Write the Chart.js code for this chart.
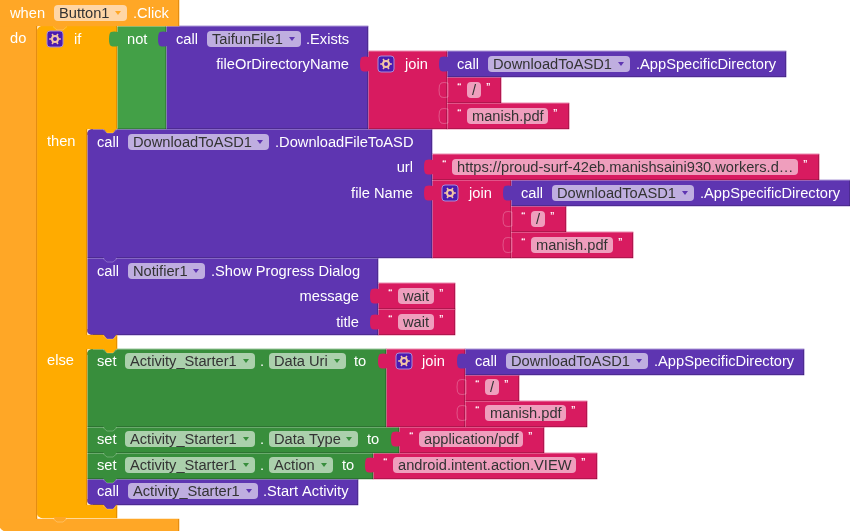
<!DOCTYPE html>
<html>
<head>
<meta charset="utf-8">
<style>
  html, body { margin: 0; background: #fff; }
  canvas { display: block; }
</style>
<script src="https://cdn.jsdelivr.net/npm/chart.js@4/dist/chart.umd.min.js"></script>
</head>
<body>
<canvas id="myChart" width="850" height="531"></canvas>
<script>
// blocks: x range on the x axis, y range on the y axis
const blockKind = ['when','when','when','if','if','if','if','if','not','call','join','call','text','text','call','text','join','call','text','text','call','text','text','set','join','call','text','text','set','text','set','text','call']
const blockFrom = [0,0,0,37,37,37,37,37,117,166,368,447,447,447,87,432,432,511,511,511,87,378,378,87,386,465,465,465,87,399,87,373,87]
const blockTo = [179,37,179,117,87,117,87,117,166,368,447,786,501,569,432,819,511,850,566,633,378,455,455,386,465,804,519,587,399,544,373,597,358]
const blockTop = [0,26,519,26,129,335,349,505,26,26,51,51,77,103,129,154,180,180,206,232,258,283,309,349,349,349,375,401,427,427,453,453,479]
const blockBottom = [26,519,531,129,335,349,505,518,129,129,129,77,103,129,258,180,258,206,232,258,335,309,335,427,427,375,401,427,453,453,479,479,505]

// plain labels on the blocks
const labelText = ['when','.Click','do','if','not','call','.Exists','fileOrDirectoryName','join','call','.AppSpecificDirectory','then','call','.DownloadFileToASD','url','file Name','join','call','.AppSpecificDirectory','call','.Show Progress Dialog','message','title','else','set','.','to','join','call','.AppSpecificDirectory','set','.','to','set','.','to','call','.Start Activity']
const labelX = [10,133,10,74,127,176,306,349,405,457,636,47,97,275,413,413,469,521,700,97,211,359,359,47,97,260,354,422,475,654,97,260,367,97,260,342,97,263]
const labelY = [13,13,38,39,39,39,39,64,64,64,64,141,142,142,167,193,193,193,193,271,271,296,322,360,361,361,361,361,361,361,439,439,439,465,465,465,491,491]
const rightAligned = ['fileOrDirectoryName','url','file Name','message','title']

// dropdown and string fields
const fieldText = ['Button1','TaifunFile1','DownloadToASD1','/','manish.pdf','DownloadToASD1','https://proud-surf-42eb.manishsaini930.workers.d…','DownloadToASD1','/','manish.pdf','Notifier1','wait','wait','Activity_Starter1','Data Uri','DownloadToASD1','/','manish.pdf','Activity_Starter1','Data Type','application/pdf','Activity_Starter1','Action','android.intent.action.VIEW','Activity_Starter1']
const fieldKind = ['when','call','call','text','text','call','text','call','text','text','call','text','text','set','set','call','text','text','set','set','text','set','set','text','call']
const fieldFrom = [54,207,488,467,467,128,452,552,531,531,128,398,398,125,269,506,485,485,125,269,419,125,269,393,128]
const fieldTo = [127,301,630,481,548,269,798,694,545,613,205,434,434,255,346,648,499,566,255,358,523,255,333,576,258]
const fieldY = [13,39,64,90,116,142,167,193,219,245,271,296,322,361,361,361,387,413,439,439,439,465,465,465,491]

// mutator gears and puzzle tabs
const gearX = [55,386,450,404]
const gearY = [39,64,193,361]
const tabKind = ['not','call','join','call','text','join','call','text','text','join','call','text','text']
const tabX = [117,166,368,447,432,432,511,378,378,386,465,399,373]
const tabY = [39,39,64,64,167,193,193,296,322,361,361,439,465]
const hollowTabX = [447,447,511,511,465,465]
const hollowTabY = [90,116,219,245,387,413]
const bumpKind = ['when','when','if','if','call','call','set','set','set','call']
const bumpX = [53,53,103,103,103,103,103,103,103,103]
const bumpY = [26,518,129,349,258,335,427,453,479,505]

const colors = { when: '#ffa726', if: '#ffab00', not: '#43a047', call: '#5e35b1', join: '#d81b60', text: '#d81b60', set: '#388e3c' }
const fieldColors = { when: '#ffd6a6', call: '#bfaee0', text: '#ef9ebd', set: '#abd0ac' }
const arrowColors = { when: '#ffa726', call: '#5e35b1', set: '#388e3c' }
const roundTop = [3, 14, 23]
const roundBottom = [2, 7, 20, 32]
const font = '14.67px "Liberation Sans"'

const datasets = blockKind.map((kind, i) => ({
    label: kind,
    data: [{ x: (blockFrom[i] + blockTo[i]) / 2, y: [blockTop[i], blockBottom[i]] }],
    backgroundColor: colors[kind],
    barThickness: blockTo[i] - blockFrom[i],
    borderSkipped: false,
    grouped: false,
    borderRadius: {
        topLeft: roundTop.includes(i) ? 6 : 0,
        bottomLeft: roundBottom.includes(i) ? 6 : 0,
        topRight: 0,
        bottomRight: 0
    }
}))

function tabPath(c, x, y) {
    c.beginPath()
    c.moveTo(x + 1, y - 7)
    c.quadraticCurveTo(x - 3, y - 8, x - 6, y - 7)
    c.quadraticCurveTo(x - 8, y - 6, x - 8, y)
    c.quadraticCurveTo(x - 8, y + 6, x - 6, y + 7)
    c.quadraticCurveTo(x - 3, y + 8, x + 1, y + 7)
    c.closePath()
}

function roundBox(c, x0, x1, y, h, r) {
    c.beginPath()
    c.roundRect(x0, y - h / 2, x1 - x0, h, r)
    c.fill()
}

function drawGear(c, x, y) {
    c.fillStyle = '#4a1bb0'
    c.strokeStyle = '#a88bd8'
    c.lineWidth = 1
    c.beginPath()
    c.roundRect(x - 8, y - 8, 16, 16, 3)
    c.fill()
    c.stroke()
    c.strokeStyle = '#f3c6a5'
    c.lineWidth = 2
    c.beginPath()
    c.arc(x, y, 3, 0, Math.PI * 2)
    c.stroke()
    c.lineWidth = 1.6
    for (let a = 0; a < 6; a++) {
        const t = a * Math.PI / 3
        c.beginPath()
        c.moveTo(x + Math.cos(t) * 3.5, y + Math.sin(t) * 3.5)
        c.lineTo(x + Math.cos(t) * 5.8, y + Math.sin(t) * 5.8)
        c.stroke()
    }
}

const blockDetails = {
    id: 'blockDetails',
    afterDatasetsDraw(chart) {
        const c = chart.ctx
        const px = (v) => chart.scales.x.getPixelForValue(v)
        const py = (v) => chart.scales.y.getPixelForValue(v)
        c.save()

        // bevel along the block edges
        blockKind.forEach((kind, i) => {
            const x0 = px(blockFrom[i]), x1 = px(blockTo[i])
            const y0 = py(blockTop[i]), y1 = py(blockBottom[i])
            const orange = kind === 'when' || kind === 'if'
            c.lineWidth = 1
            c.strokeStyle = orange ? 'rgba(205,120,0,0.55)' : 'rgba(0,0,0,0.18)'
            c.beginPath()
            c.moveTo(x1 - 0.5, y0)
            c.lineTo(x1 - 0.5, y1)
            if (!orange) {
                c.moveTo(x0 + (roundBottom.includes(i) ? 6 : 0), y1 - 0.5)
                c.lineTo(x1, y1 - 0.5)
            }
            c.stroke()
            if (!orange) {
                c.strokeStyle = 'rgba(255,255,255,0.25)'
                c.beginPath()
                c.moveTo(x0 + (roundTop.includes(i) ? 6 : 0), y0 + 0.5)
                c.lineTo(x1, y0 + 0.5)
                c.moveTo(x0 + 0.5, y0 + (roundTop.includes(i) ? 6 : 0))
                c.lineTo(x0 + 0.5, y1 - (roundBottom.includes(i) ? 6 : 0))
                c.stroke()
            }
        })

        // statement connectors
        bumpKind.forEach((kind, i) => {
            const x = px(bumpX[i]), y = py(bumpY[i])
            c.fillStyle = colors[kind]
            c.beginPath()
            c.moveTo(x, y - 1)
            c.lineTo(x + 4, y + 4)
            c.lineTo(x + 10, y + 4)
            c.lineTo(x + 14, y - 1)
            c.closePath()
            c.fill()
            c.strokeStyle = 'rgba(255,255,255,0.25)'
            c.beginPath()
            c.moveTo(x, y + 0.5)
            c.lineTo(x + 4, y + 4)
            c.lineTo(x + 10, y + 4)
            c.lineTo(x + 14, y + 0.5)
            c.stroke()
        })

        // value tabs
        tabKind.forEach((kind, i) => {
            tabPath(c, px(tabX[i]), py(tabY[i]))
            c.fillStyle = colors[kind]
            c.fill()
        })
        hollowTabX.forEach((x, i) => {
            tabPath(c, px(x), py(hollowTabY[i]))
            c.strokeStyle = 'rgba(255,255,255,0.25)'
            c.lineWidth = 1
            c.stroke()
        })

        c.font = font
        c.textBaseline = 'alphabetic'

        // fields
        fieldText.forEach((t, i) => {
            const kind = fieldKind[i]
            const x0 = px(fieldFrom[i]), x1 = px(fieldTo[i]), y = py(fieldY[i])
            c.fillStyle = fieldColors[kind]
            roundBox(c, x0, x1, y, 16, 4)
            c.fillStyle = '#333'
            c.textAlign = t === '/' ? 'center' : 'left'
            c.fillText(t, t === '/' ? (x0 + x1) / 2 : x0 + 5, y + 5)
            if (kind !== 'text') {
                c.fillStyle = arrowColors[kind]
                c.beginPath()
                c.moveTo(x1 - 12, y - 2)
                c.lineTo(x1 - 6, y - 2)
                c.lineTo(x1 - 9, y + 2)
                c.closePath()
                c.fill()
            } else {
                c.fillStyle = '#fff'
                c.textAlign = 'left'
                c.font = 'bold 9px "Liberation Sans"'
                c.fillText('“', x0 - 10, y - 1)
                c.fillText('”', x1 + 5, y - 1)
                c.font = font
            }
        })

        // labels
        c.fillStyle = '#fff'
        labelText.forEach((t, i) => {
            c.textAlign = rightAligned.includes(t) ? 'right' : 'left'
            c.fillText(t, px(labelX[i]), py(labelY[i]) + 5)
        })

        gearX.forEach((x, i) => drawGear(c, px(x), py(gearY[i])))
        c.restore()
    }
}

new Chart(document.getElementById('myChart'), {
    type: 'bar',
    data: {
        datasets: datasets
    },
    options: {
        responsive: false,
        animation: false,
        layout: { padding: 0 },
        plugins: {
            legend: { display: false },
            tooltip: { enabled: false }
        },
        scales: {
            x: { type: 'linear', min: 0, max: 850, offset: false, display: false },
            y: { type: 'linear', min: 0, max: 531, reverse: true, display: false }
        }
    },
    plugins: [blockDetails]
})
</script>
</body>
</html>
